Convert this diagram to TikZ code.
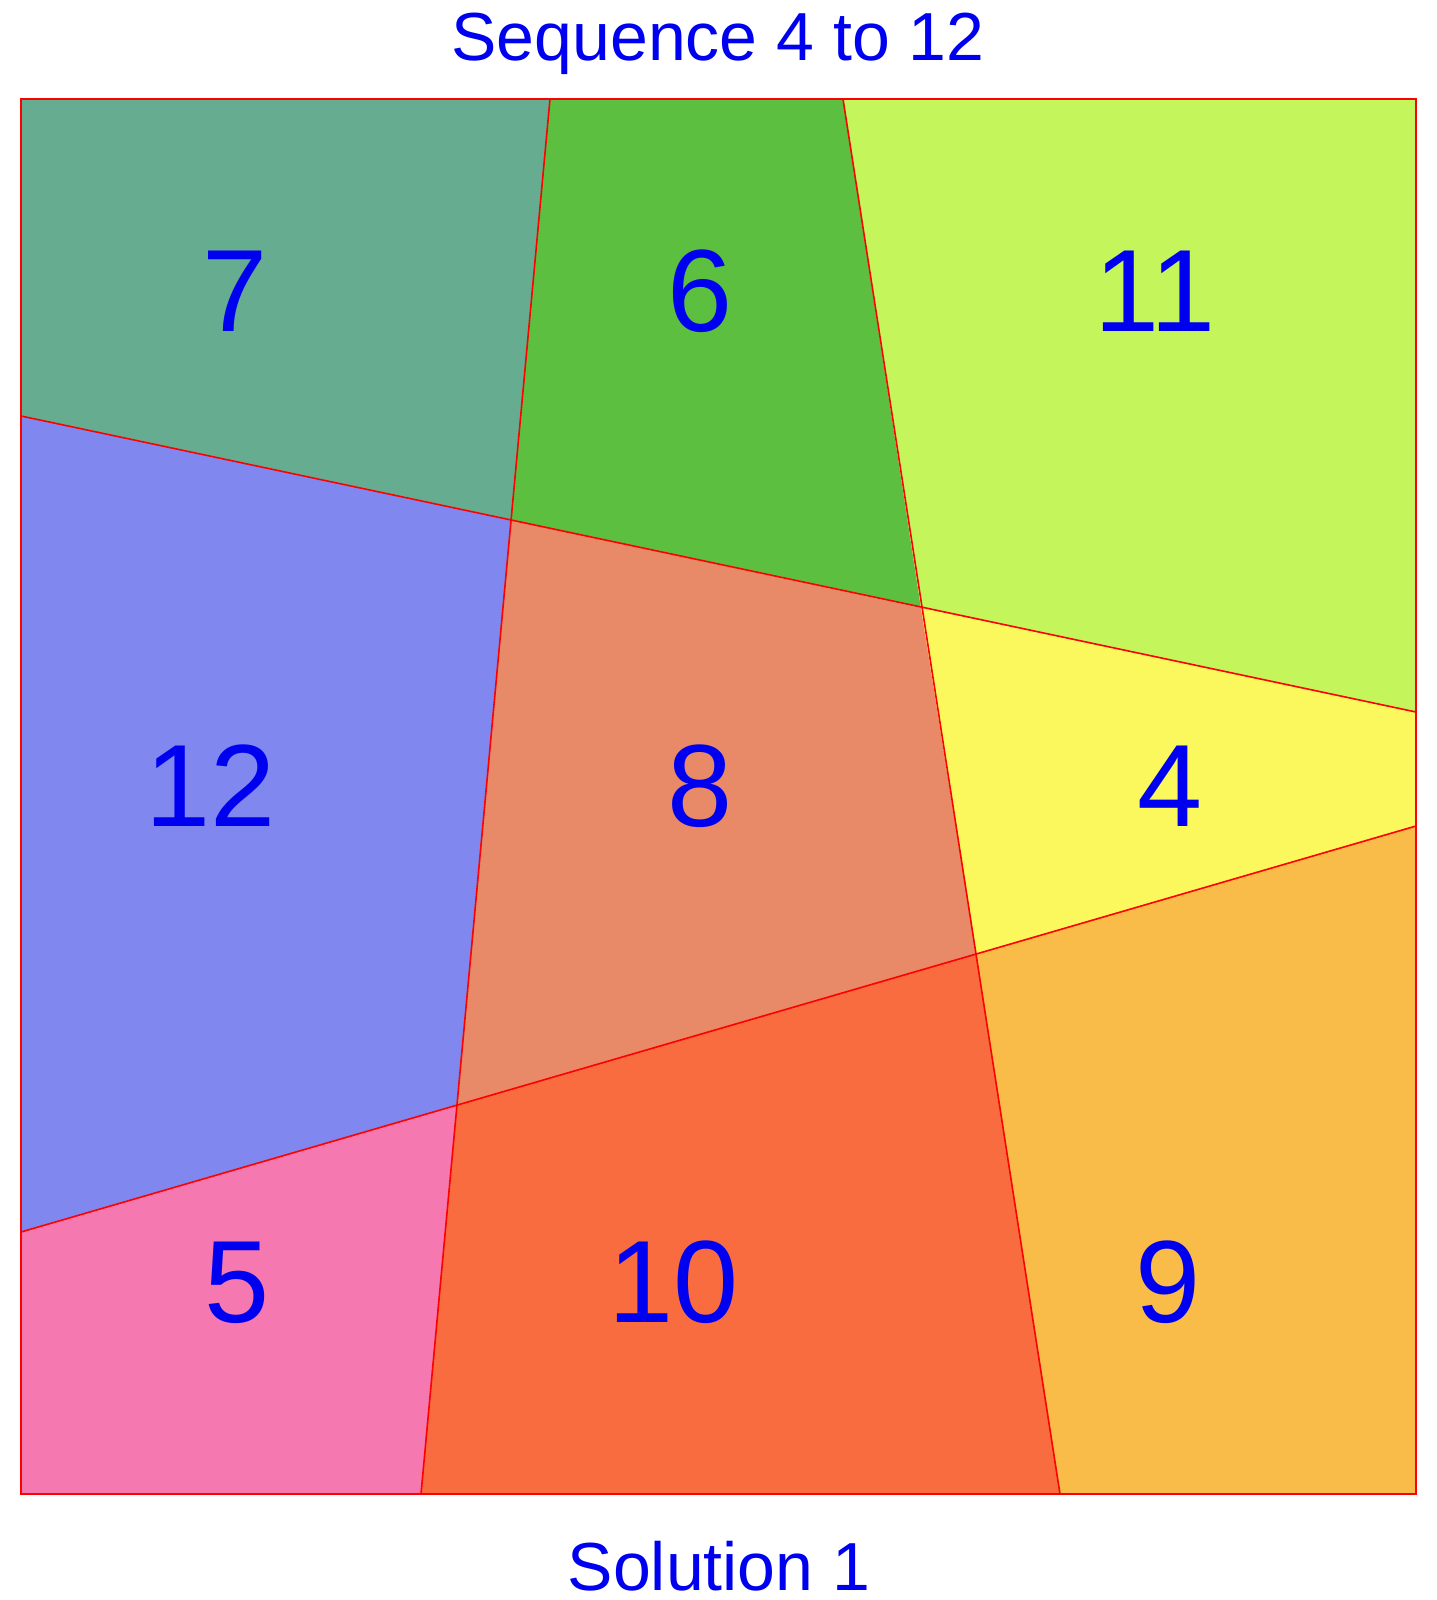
\documentclass[tikz,border=0pt]{standalone}
\usepackage{fontspec}
\setmainfont{Liberation Sans}
\definecolor{cseven}{RGB}{102,172,145}
\definecolor{csix}{RGB}{93,191,63}
\definecolor{celeven}{RGB}{196,246,92}
\definecolor{ctwelve}{RGB}{128,136,240}
\definecolor{ceight}{RGB}{232,137,104}
\definecolor{cfour}{RGB}{250,248,92}
\definecolor{cfive}{RGB}{246,120,176}
\definecolor{cten}{RGB}{248,108,64}
\definecolor{cnine}{RGB}{250,188,72}
\definecolor{txtblue}{RGB}{0,0,240}
\begin{document}
\begin{tikzpicture}[x=1pt,y=-1pt,
  region/.style={draw=none},
  cut/.style={draw=red,line width=1.6pt},
  num/.style={text=txtblue,anchor=base,inner sep=0pt,font=\fontsize{117}{117}\selectfont},
  caption/.style={text=txtblue,anchor=base,inner sep=0pt,font=\fontsize{68}{68}\selectfont}]
\useasboundingbox (0,0) rectangle (1436,1600);
\coordinate (TL) at (21,99);
\coordinate (TR) at (1416,99);
\coordinate (BR) at (1416,1494);
\coordinate (BL) at (21,1494);
\coordinate (T1) at (550,99);
\coordinate (T2) at (843,99);
\coordinate (B1) at (421,1494);
\coordinate (B2) at (1060,1494);
\coordinate (L1) at (21,416);
\coordinate (L2) at (21,1232);
\coordinate (R1) at (1416,712);
\coordinate (R2) at (1416,826);
\coordinate (P1) at (511,520);
\coordinate (P2) at (921,608);
\coordinate (P3) at (976,954);
\coordinate (P4) at (457,1105);
% regions
\fill[cseven] (TL) -- (T1) -- (P1) -- (L1) -- cycle;
\fill[csix] (T1) -- (T2) -- (P2) -- (P1) -- cycle;
\fill[celeven] (T2) -- (TR) -- (R1) -- (P2) -- cycle;
\fill[ctwelve] (L1) -- (P1) -- (P4) -- (L2) -- cycle;
\fill[ceight] (P1) -- (P2) -- (P3) -- (P4) -- cycle;
\fill[cfour] (P2) -- (R1) -- (R2) -- (P3) -- cycle;
\fill[cfive] (L2) -- (P4) -- (B1) -- (BL) -- cycle;
\fill[cten] (P4) -- (P3) -- (B2) -- (B1) -- cycle;
\fill[cnine] (P3) -- (R2) -- (BR) -- (B2) -- cycle;
% cut lines
\draw[cut] (L1) -- (R1);
\draw[cut] (L2) -- (R2);
\draw[cut] (T1) -- (B1);
\draw[cut] (T2) -- (B2);
\draw[cut] (TL) rectangle (BR);
% numbers
\node[num] (n7) at (235,331) {7};
\node[num] (n6) at (700,331) {6};
\node[num] (n11) at (1155,331) {11};
\node[num] (n12) at (211,826) {12};
\node[num] (n8) at (700,826) {8};
\node[num] (n4) at (1170,826) {4};
\node[num] (n5) at (237,1322) {5};
\node[num] (n10) at (674,1322) {10};
\node[num] (n9) at (1168,1322) {9};
% captions
\node[caption] (title) at (718,61) {Sequence 4 to 12};
\node[caption] (sol) at (719,1590) {Solution 1};
\end{tikzpicture}
\end{document}
